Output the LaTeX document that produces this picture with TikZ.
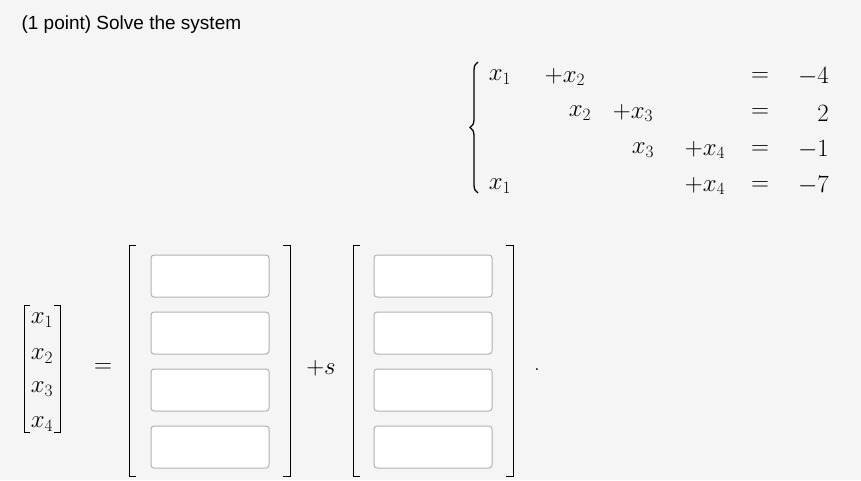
\documentclass[tikz,border=0pt]{standalone}
\usepackage{fontspec}
\setmainfont{Latin Modern Roman}
\newfontfamily\arial{Liberation Sans}
\usetikzlibrary{decorations.pathreplacing}
\begin{document}
\begin{tikzpicture}[x=1pt,y=-1pt,
  ansbox/.style={draw=gray!60,fill=white,rounded corners=3pt,line width=1pt},
  mt/.style={font=\fontsize{23}{26}\selectfont,inner sep=0pt},
  brk/.style={line width=0.8pt}]
\fill[gray!8] (0,0) rectangle (861,480);
\useasboundingbox (0,0) rectangle (861,480);
\node[font=\arial\fontsize{19}{22}\selectfont,anchor=west] (t) at (18,25) {(1 point) Solve the system};
% system brace
\coordinate (bt) at (478,62);
\coordinate (bb) at (478,193);
\draw[line width=1.3pt,decorate,decoration={brace,amplitude=8pt,mirror}] (bt) -- (bb);
\foreach \n/\x/\y/\s in {a/500/77/x_1,b/565/77/+x_2,c/580/113/x_2,d/633/113/+x_3,e/643/150/x_3,f/705/150/+x_4,g/500/186/x_1,h/705/186/+x_4}
  \node[mt] (\n) at (\x,\y) {$\s$};
\foreach \y/\r [count=\i] in {77/-4,113/2,150/-1,186/-7}{
  \node[mt] (eq\i) at (760,\y) {$=$};
  \node[mt,anchor=east] (r\i) at (829,\y) {$\r$};}
% left vector
\draw[brk] (30,305) -- (24,305) -- (24,432) -- (30,432);
\draw[brk] (54,305) -- (60,305) -- (60,432) -- (54,432);
\foreach \y/\s in {320/x_1,356/x_2,389/x_3,424/x_4} \node[mt] (v\y) at (42,\y) {$\s$};
\node[mt] (eq) at (103,368) {$=$};
\draw[brk] (136,245) -- (129,245) -- (129,476) -- (136,476);
\draw[brk] (283,245) -- (290,245) -- (290,476) -- (283,476);
\draw[brk] (360,245) -- (353,245) -- (353,476) -- (360,476);
\draw[brk] (506,245) -- (513,245) -- (513,476) -- (506,476);
\foreach \y [count=\i] in {255,312,369,426}{
  \draw[ansbox] (151,\y) rectangle (269,\y+42);
  \draw[ansbox] (374,\y) rectangle (492,\y+42);}
\node[mt] (ps) at (321,368) {$+s$};
\node[mt] (dot) at (537,370) {.};
\end{tikzpicture}
\end{document}
